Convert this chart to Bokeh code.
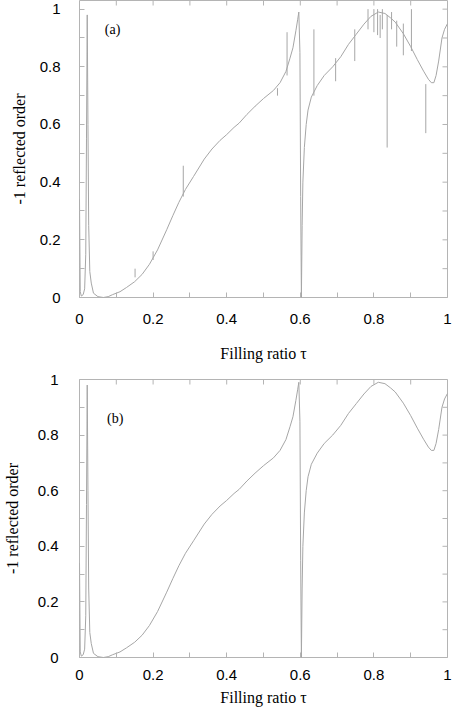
import math
from bokeh.plotting import figure
from bokeh.layouts import column
from bokeh.models import Range1d, LinearAxis, FixedTicker, PrintfTickFormatter
from bokeh.core.properties import value
from bokeh.embed import file_html
from bokeh.resources import INLINE

# ---- data ----
tau = [0.0, 0.002, 0.005, 0.010, 0.014, 0.017, 0.019, 0.021, 0.023, 0.025,
       0.028, 0.032, 0.038, 0.050, 0.065, 0.078, 0.090, 0.110, 0.128, 0.150,
       0.170, 0.190, 0.212, 0.237, 0.254, 0.270, 0.288, 0.310, 0.339, 0.360,
       0.382, 0.400, 0.420, 0.434, 0.455, 0.477, 0.500, 0.527, 0.545, 0.561,
       0.572, 0.580, 0.588, 0.593, 0.596, 0.599, 0.601, 0.603, 0.605, 0.607,
       0.611, 0.616, 0.621, 0.630, 0.646, 0.665, 0.688, 0.710, 0.731, 0.752,
       0.773, 0.792, 0.812, 0.830, 0.845, 0.858, 0.880, 0.900, 0.918, 0.935,
       0.948, 0.956, 0.963, 0.969, 0.976, 0.985, 0.992, 1.000]
refl = [0.34, 0.02, 0.005, 0.01, 0.03, 0.15, 0.55, 0.98, 0.60, 0.25,
        0.09, 0.05, 0.015, 0.003, 0.0, 0.003, 0.01, 0.02, 0.035, 0.055,
        0.08, 0.115, 0.165, 0.235, 0.285, 0.33, 0.375, 0.42, 0.48, 0.515,
        0.545, 0.565, 0.59, 0.605, 0.635, 0.663, 0.69, 0.718, 0.745, 0.784,
        0.83, 0.866, 0.925, 0.965, 0.99, 0.85, 0.35, 0.0, 0.25, 0.40,
        0.52, 0.60, 0.65, 0.695, 0.735, 0.77, 0.80, 0.835, 0.878, 0.913,
        0.948, 0.975, 0.99, 0.985, 0.97, 0.955, 0.915, 0.87, 0.825, 0.785,
        0.757, 0.745, 0.745, 0.77, 0.82, 0.90, 0.93, 0.95]

# numerical noise spikes seen in panel (a)
spike_tau = [0.151, 0.200, 0.282, 0.538, 0.564, 0.637, 0.696, 0.748, 0.784,
             0.800, 0.810, 0.817, 0.823, 0.836, 0.848, 0.862, 0.880, 0.902, 0.941]
spike_lo = [0.07, 0.13, 0.35, 0.70, 0.77, 0.70, 0.75, 0.82, 0.93,
            0.92, 0.91, 0.90, 0.93, 0.52, 0.93, 0.87, 0.84, 0.855, 0.57]
spike_hi = [0.10, 0.16, 0.457, 0.726, 0.92, 0.93, 0.83, 0.93, 1.0,
            1.0, 1.0, 0.98, 1.0, 0.98, 0.99, 0.96, 0.95, 1.0, 0.74]

major_ticks = [0, 0.2, 0.4, 0.6, 0.8, 1.0]
minor_ticks = [0.1, 0.3, 0.5, 0.7, 0.9]
all_ticks = sorted(major_ticks + minor_ticks)

LINE = "#a6a6a6"
FRAME = "#b4b4b4"
SERIF = "Liberation Serif"
SANS = "Liberation Sans"


def make_panel(width, height, borders, y_end, label, label_xy, standoffs):
    bl, br, bt, bb = borders
    x_end = 1.0
    p = figure(width=width, height=height, x_range=Range1d(0, x_end),
               y_range=Range1d(0, y_end), output_backend="svg",
               toolbar_location=None, x_axis_location=None, y_axis_location=None,
               min_border_left=bl, min_border_right=br,
               min_border_top=bt, min_border_bottom=bb)
    p.grid.visible = False
    p.outline_line_color = FRAME
    p.outline_line_width = 1
    p.background_fill_color = "white"
    p.border_fill_color = "white"

    def style(ax, axis_label):
        ax.axis_line_color = None
        ax.major_tick_line_color = FRAME
        ax.minor_tick_line_color = FRAME
        ax.major_tick_in = 5
        ax.major_tick_out = 0
        ax.minor_tick_in = 5
        ax.minor_tick_out = 0
        ax.major_label_text_font = SANS
        ax.major_label_text_font_size = "15px"
        ax.major_label_text_color = "black"
        ax.axis_label = axis_label
        ax.axis_label_text_font = SERIF
        ax.axis_label_text_font_style = "normal"
        ax.axis_label_text_font_size = "16px"
        ax.axis_label_text_color = "black"

    xb = LinearAxis(ticker=FixedTicker(ticks=major_ticks, minor_ticks=minor_ticks),
                    formatter=PrintfTickFormatter(format="%g"))
    style(xb, "Filling ratio τ")
    xb.major_label_standoff = standoffs[0]
    xb.axis_label_standoff = standoffs[1]
    p.add_layout(xb, "below")

    yl = LinearAxis(ticker=FixedTicker(ticks=major_ticks, minor_ticks=minor_ticks),
                    formatter=PrintfTickFormatter(format="%g"))
    style(yl, "-1 reflected order")
    yl.major_label_standoff = standoffs[2]
    yl.axis_label_standoff = standoffs[3]
    p.add_layout(yl, "left")

    # mirrored inward ticks on top and right sides
    p.ray(x=all_ticks, y=[y_end] * len(all_ticks), length=5, length_units="screen",
          angle=-math.pi / 2, line_color=FRAME, line_width=1)
    p.ray(x=[x_end] * len(all_ticks), y=all_ticks, length=5, length_units="screen",
          angle=math.pi, line_color=FRAME, line_width=1)

    p.text(x=[label_xy[0]], y=[label_xy[1]], text=[label],
           text_font=value(SERIF), text_font_size="14px",
           text_align="center", text_baseline="middle", text_color="black")
    return p


pa = make_panel(458, 364, (68, 11, 0, 0), 1.03, "(a)", (0.09, 0.93), (16, 18, 19, 9))
pa.line(tau, refl, line_color=LINE, line_width=1)
pa.segment(x0=spike_tau, y0=spike_lo, x1=spike_tau, y1=spike_hi,
           line_color=LINE, line_width=1)

pb = make_panel(458, 344, (75, 2, 15, 0), 1.0, "(b)", (0.097, 0.86), (12, 6, 21, 14))
pb.line(tau, refl, line_color=LINE, line_width=1)

layout = column(pa, pb, spacing=0)
open("out.html", "w").write(file_html(layout, INLINE))
